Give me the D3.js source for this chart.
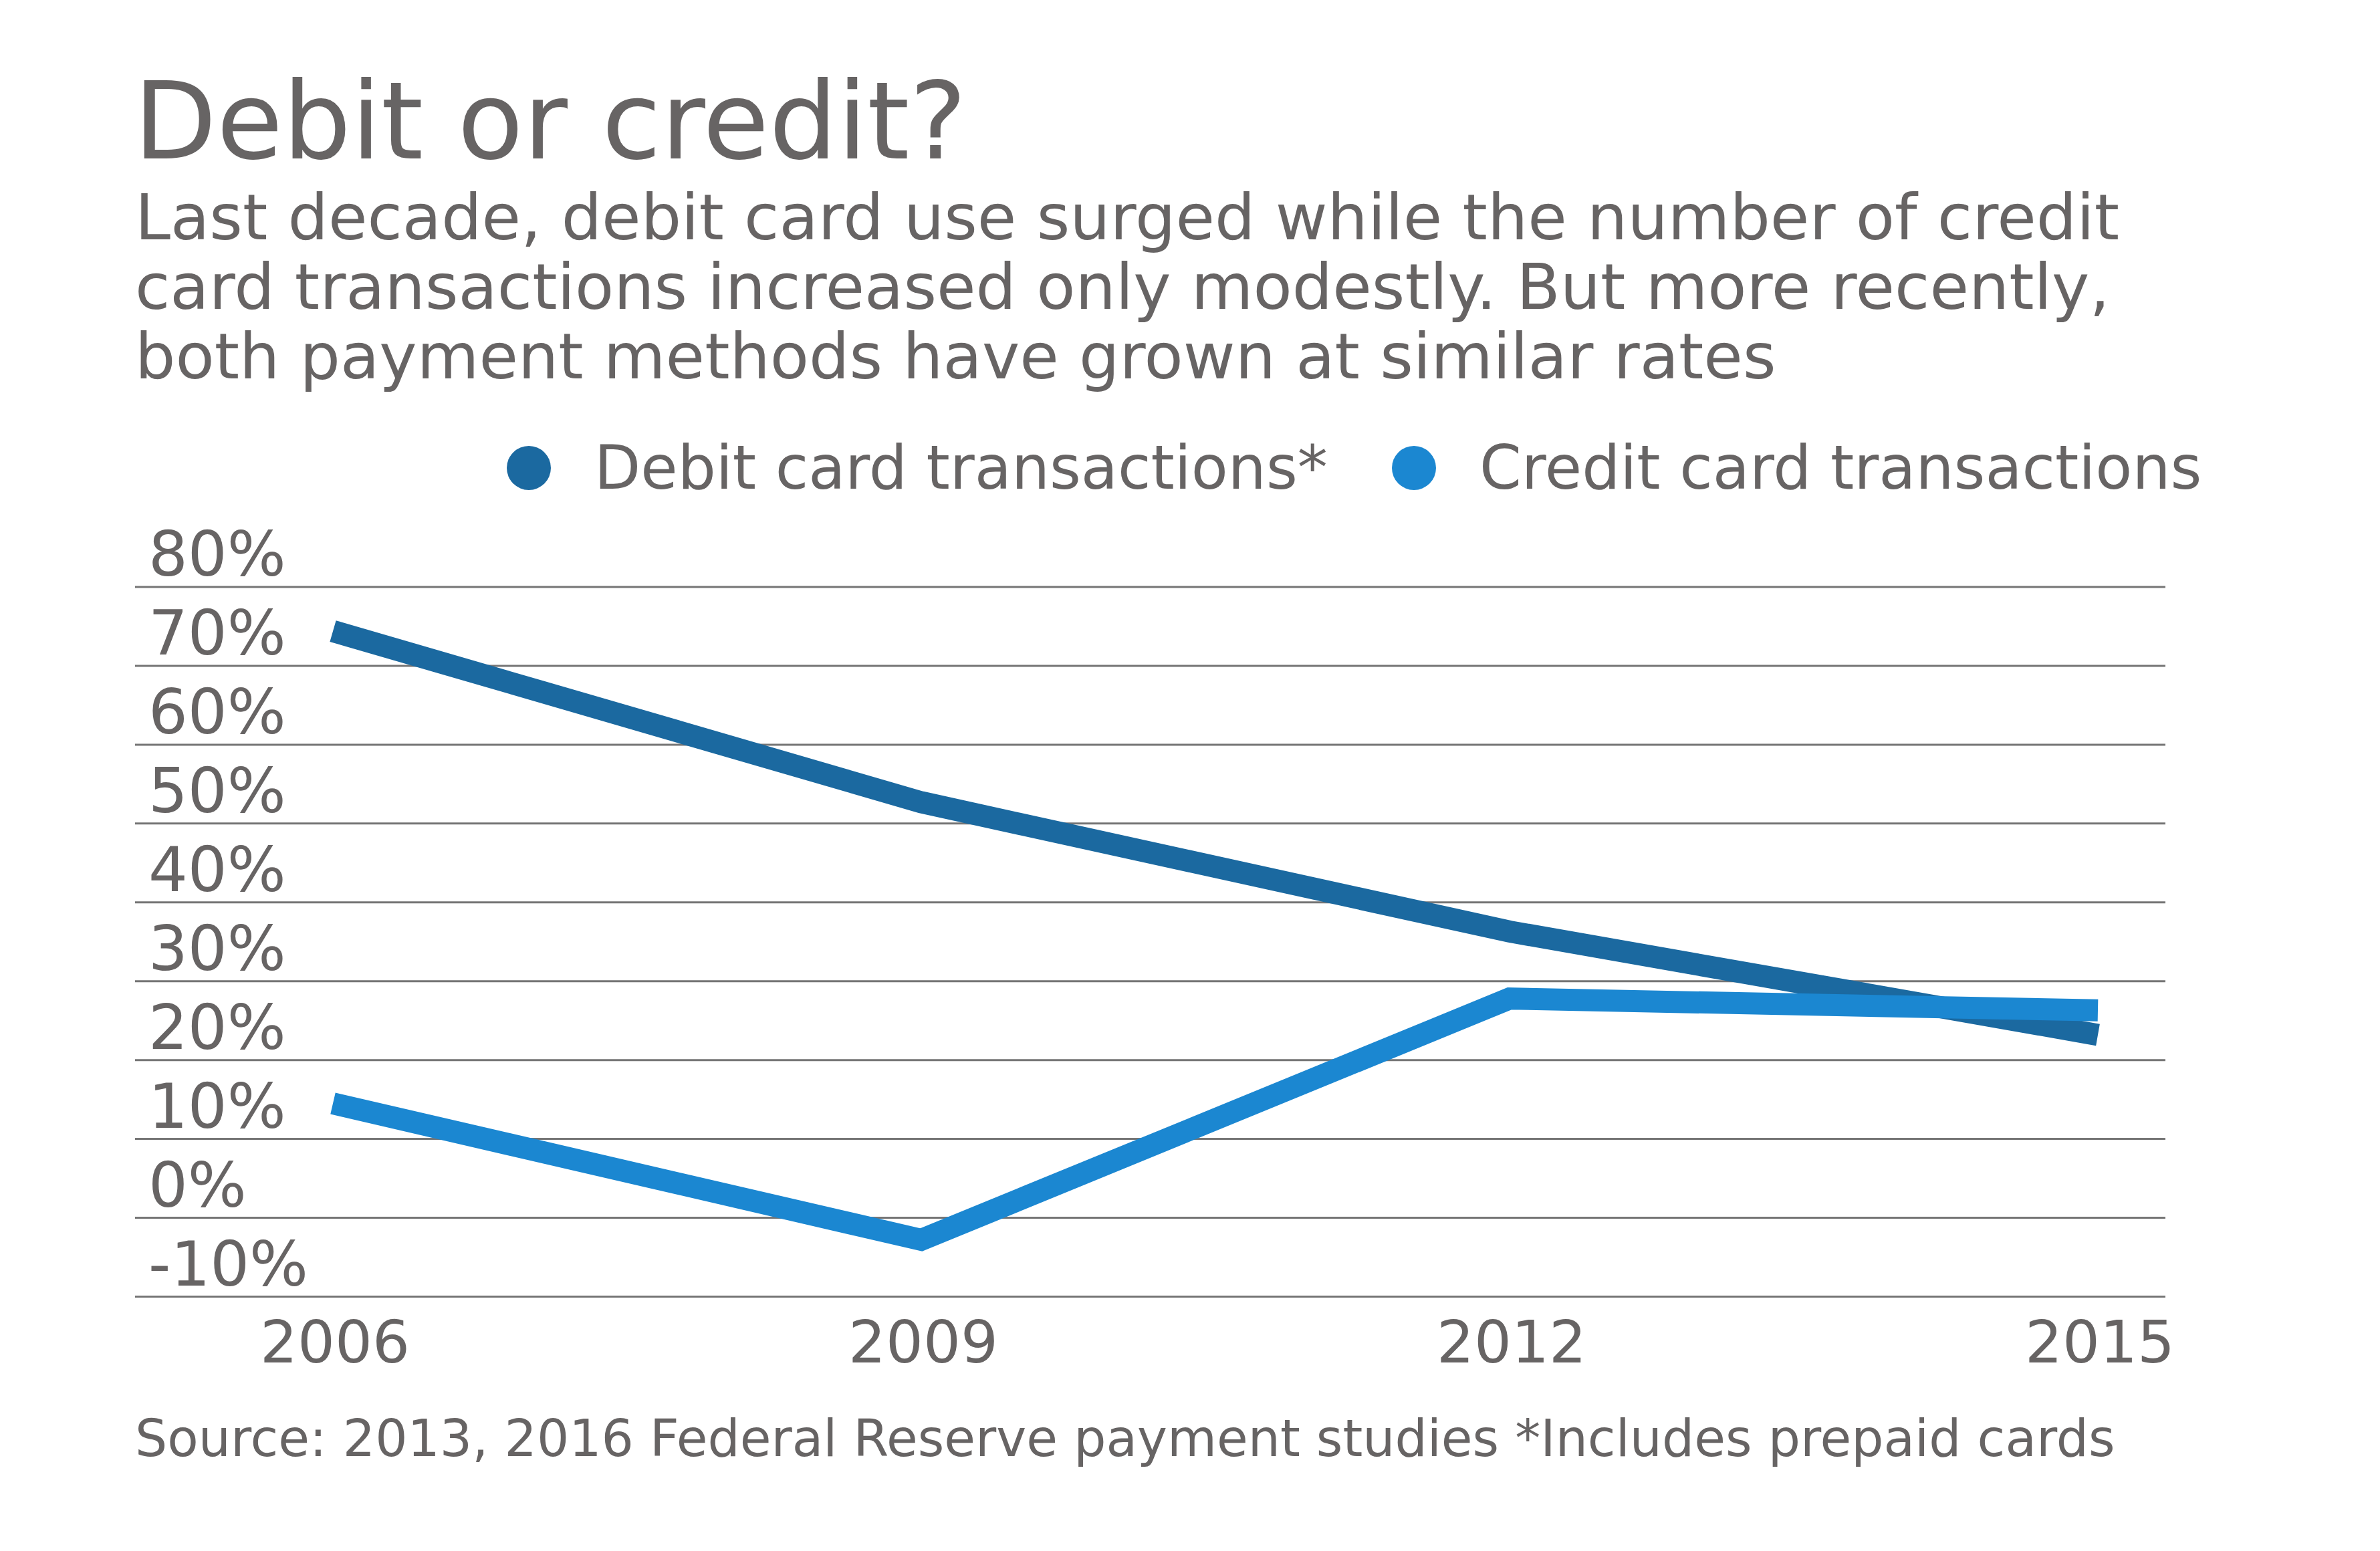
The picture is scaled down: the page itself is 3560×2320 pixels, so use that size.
<!DOCTYPE html>
<html>
<head>
<meta charset="utf-8">
<script src="https://cdn.jsdelivr.net/npm/d3@7"></script>
<style>
  body { margin: 0; background: #fff; }
  text { font-family: "DejaVu Sans", Verdana, sans-serif; fill: #676464; }
</style>
</head>
<body>
<script>
// chart values
const years = [2006, 2009, 2012, 2015];
const debit = [74.4, 52.7, 36.3, 23.2];
const credit = [14.5, -2.8, 27.8, 26.3];
const yTicks = [-10, 0, 10, 20, 30, 40, 50, 60, 70, 80];
const seriesNames = ['Debit card transactions*', 'Credit card transactions'];
const seriesColors = ['#1b69a0', '#1b87d1'];

const w = 3560, h = 2320;

const svg = d3.select('body')
              .append('svg')
              .attr('width', w)
              .attr('height', h);

// title + subtitle
svg.append('text')
   .attr('x', 200)
   .attr('y', 237)
   .style('font-size', '161px')
   .text('Debit or credit?');

const sub = ['Last decade, debit card use surged while the number of credit',
             'card transactions increased only modestly. But more recently,',
             'both payment methods have grown at similar rates'];
svg.selectAll('.sub')
   .data(sub)
   .enter()
   .append('text')
   .attr('class', 'sub')
   .attr('x', 202)
   .attr('y', (d, i) => 358 + i * 104)
   .style('font-size', '95.2px')
   .text(d => d);

// legend
const legendX = [791, 2115];
const lg = svg.selectAll('.legend')
              .data(seriesNames)
              .enter()
              .append('g')
              .attr('class', 'legend')
              .attr('transform', (d, i) => 'translate(' + legendX[i] + ',700)');
lg.append('circle')
  .attr('r', 33)
  .attr('fill', (d, i) => seriesColors[i]);
lg.append('text')
  .attr('x', 98)
  .attr('y', 31)
  .style('font-size', '90px')
  .text(d => d);

// scales
const xScale = d3.scaleLinear()
                 .domain([2006, 2015])
                 .range([498, 3138]);
const yScale = d3.scaleLinear()
                 .domain([-10, 80])
                 .range([1939.5, 878]);

// gridlines + y labels
svg.selectAll('.grid')
   .data(yTicks)
   .enter()
   .append('line')
   .attr('class', 'grid')
   .attr('x1', 202)
   .attr('x2', 3239)
   .attr('y1', d => yScale(d))
   .attr('y2', d => yScale(d))
   .attr('stroke', '#757575')
   .attr('stroke-width', 3);

svg.selectAll('.ylab')
   .data(yTicks)
   .enter()
   .append('text')
   .attr('class', 'ylab')
   .attr('x', 222)
   .attr('y', d => yScale(d) - 17)
   .style('font-size', '92.5px')
   .text(d => d + '%');

// x labels
svg.selectAll('.xlab')
   .data(years)
   .enter()
   .append('text')
   .attr('class', 'xlab')
   .attr('x', d => xScale(d) + 3)
   .attr('y', 2038)
   .attr('text-anchor', 'middle')
   .style('font-size', '88px')
   .text(d => d);

// lines
const line = d3.line()
               .x(d => xScale(d[0]))
               .y(d => yScale(d[1]));

[debit, credit].forEach((vals, i) => {
  svg.append('path')
     .datum(years.map((yr, j) => [yr, vals[j]]))
     .attr('d', line)
     .attr('fill', 'none')
     .attr('stroke', seriesColors[i])
     .attr('stroke-width', 33)
     .attr('stroke-linejoin', 'miter')
     .attr('stroke-linecap', 'butt');
});

// source
svg.append('text')
   .attr('x', 202)
   .attr('y', 2178)
   .style('font-size', '76px')
   .text('Source: 2013, 2016 Federal Reserve payment studies *Includes prepaid cards');
</script>
</body>
</html>
